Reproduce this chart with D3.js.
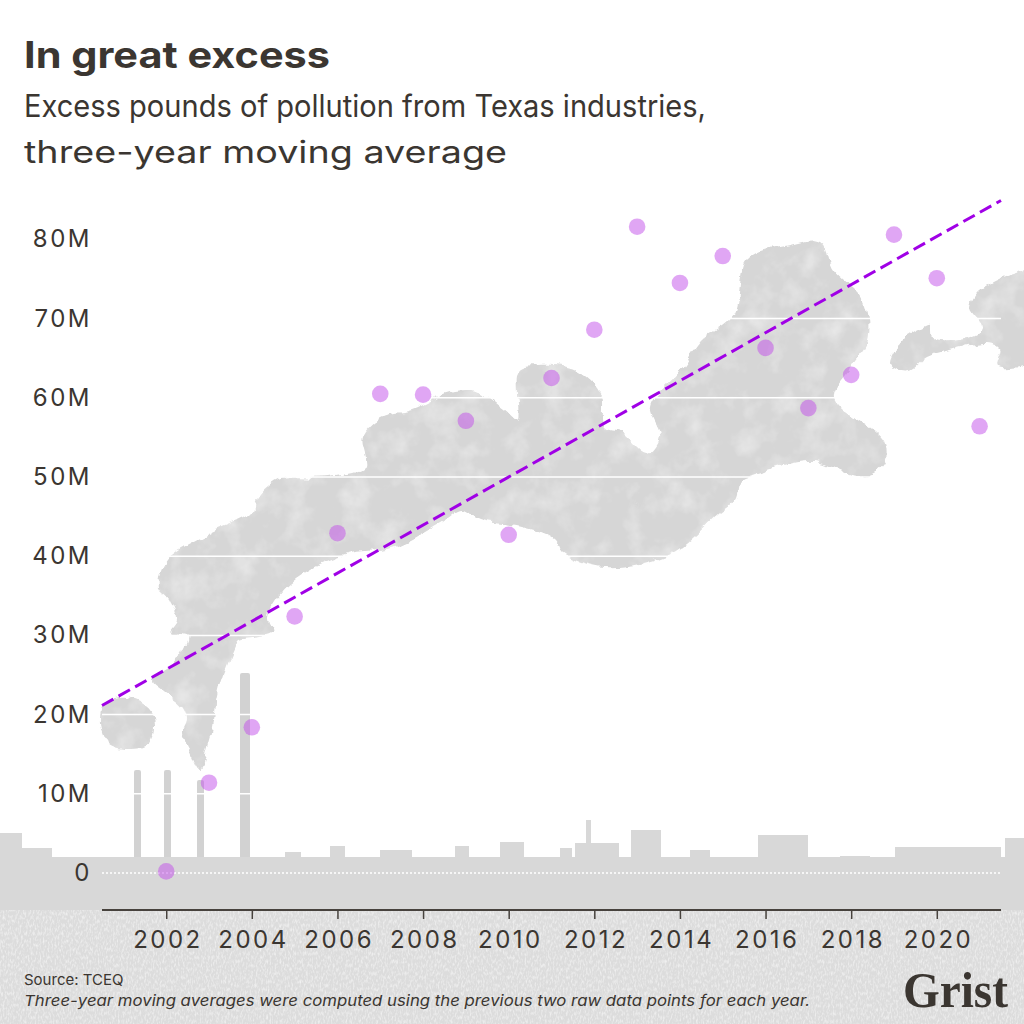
<!DOCTYPE html>
<html>
<head>
<meta charset="utf-8">
<script src="https://cdn.jsdelivr.net/npm/d3@7"></script>
<style>
  html, body { margin: 0; padding: 0; background: #fff; }
  svg { display: block; }
  text { font-family: Inter, "Noto Sans", sans-serif; fill: #3b3631; }
</style>
</head>
<body>
<svg id="chart" width="1024" height="1024"></svg>
<script>
// ---- data ----
var years = [2002, 2003, 2004, 2005, 2006, 2007, 2008, 2009, 2010, 2011,
             2012, 2013, 2014, 2015, 2016, 2017, 2018, 2019, 2020, 2021];
// excess pounds, millions (three-year moving average)
var pounds = [0.2, 11.4, 18.4, 32.4, 42.9, 60.5, 60.4, 57.1, 42.7, 62.5,
              68.6, 81.6, 74.5, 77.9, 66.3, 58.7, 62.9, 80.6, 75.1, 56.4];
var yTicks = [0, 10, 20, 30, 40, 50, 60, 70, 80];
var xTicks = [2002, 2004, 2006, 2008, 2010, 2012, 2014, 2016, 2018, 2020];

var svg = d3.select('#chart');
var W = 1024, H = 1024;

var x = d3.scaleLinear().domain([2000.5, 2021.5]).range([102, 1001]);
var y = d3.scaleLinear().domain([0, 80]).range([873, 239.4]);

// ---- filters for the photo-like background ----
var defs = svg.append('defs');
var f = defs.append('filter').attr('id', 'smoke')
    .attr('x', '-10%').attr('y', '-10%').attr('width', '120%').attr('height', '120%');
f.append('feTurbulence').attr('type', 'fractalNoise').attr('baseFrequency', 0.07)
    .attr('numOctaves', 3).attr('seed', 4).attr('result', 'n');
f.append('feDisplacementMap').attr('in', 'SourceGraphic').attr('in2', 'n')
    .attr('scale', 9).attr('xChannelSelector', 'R').attr('yChannelSelector', 'G').attr('result', 'd');
f.append('feTurbulence').attr('type', 'fractalNoise').attr('baseFrequency', 0.035)
    .attr('numOctaves', 4).attr('seed', 9).attr('result', 't');
f.append('feColorMatrix').attr('in', 't').attr('type', 'matrix')
    .attr('values', '0 0 0 0 1  0 0 0 0 1  0 0 0 0 1  0.9 0 0 0 -0.4').attr('result', 'w');
f.append('feComposite').attr('in', 'w').attr('in2', 'd').attr('operator', 'in').attr('result', 'wc');
var fm = f.append('feMerge');
fm.append('feMergeNode').attr('in', 'd');
fm.append('feMergeNode').attr('in', 'wc');

var fw = defs.append('filter').attr('id', 'water')
    .attr('x', 0).attr('y', 0).attr('width', '100%').attr('height', '100%');
fw.append('feTurbulence').attr('type', 'fractalNoise').attr('baseFrequency', '0.6 0.25')
    .attr('numOctaves', 2).attr('seed', 2).attr('result', 'n');
fw.append('feColorMatrix').attr('in', 'n').attr('type', 'matrix')
    .attr('values', '0 0 0 0 1  0 0 0 0 1  0 0 0 0 1  1.2 0 0 0 -0.5').attr('result', 'w');
fw.append('feComposite').attr('in', 'w').attr('in2', 'SourceGraphic').attr('operator', 'in').attr('result', 'wc');
var fwm = fw.append('feMerge');
fwm.append('feMergeNode').attr('in', 'SourceGraphic');
fwm.append('feMergeNode').attr('in', 'wc');

// ---- background: smoke, stacks, skyline, water ----
var bg = svg.append('g');
var cloud = d3.line().curve(d3.curveCatmullRomClosed.alpha(0.5));

var mainSmoke = [[200,770],[190,750],[183,733],[187,720],[183,707],[163,690],[153,680],[170,667],
  [183,650],[187,637],[170,633],[177,620],[170,600],[159,587],[167,560],[209,533],[252,513],
  [256,500],[277,480],[327,477],[365,467],[363,437],[382,417],[411,410],[449,393],[479,393],
  [504,410],[517,420],[519,370],[538,365],[576,370],[601,393],[605,427],[622,433],[647,453],
  [660,437],[651,407],[681,370],[702,340],[734,314],[747,260],[790,245],[821,242],[834,270],
  [864,300],[868,340],[851,367],[834,397],[884,441],[884,464],[861,477],[814,461],[754,474],
  [741,480],[735,500],[719,513],[672,553],[605,567],[563,553],[555,540],[521,527],[479,520],
  [462,510],[445,520],[395,547],[352,553],[310,570],[281,593],[268,617],[273,633],[239,640],
  [237,643],[223,677],[217,700],[213,727],[207,750],[203,767]];
var leftPuff = [[100,722],[104,705],[118,698],[135,700],[150,710],[155,728],[148,745],[128,750],[108,744]];
var rightSmoke = [[890,363],[903,340],[923,327],[930,325],[933,338],[967,337],[983,327],[970,307],
  [977,293],[997,280],[1017,273],[1030,268],[1030,362],[997,367],[1000,347],[983,343],[950,350],
  [927,357],[910,370],[893,367]];

var smokeG = bg.append('g').attr('filter', 'url(#smoke)');
[mainSmoke, leftPuff, rightSmoke].forEach(function(p){
    smokeG.append('path').attr('d', cloud(p)).attr('fill', '#d6d6d6');
});

// stacks
var stacks = [[134,770,7],[164,770,7],[197,780,7],[240,673,10]];
bg.selectAll('rect.stack').data(stacks).enter().append('rect')
    .attr('x', function(d){ return d[0]; }).attr('y', function(d){ return d[1]; })
    .attr('width', function(d){ return d[2]; }).attr('height', function(d){ return 862 - d[1]; })
    .attr('rx', 2).attr('fill', '#d2d2d2');

// skyline blocks [x, top, width]
var blocks = [[0,833,22],[22,848,30],[285,852,16],[330,846,15],[380,850,32],[455,846,14],
  [500,842,24],[560,848,12],[575,843,44],[586,820,5],[631,830,30],[690,850,20],[758,835,50],
  [840,856,30],[895,847,106],[1005,838,19]];
bg.selectAll('rect.bl').data(blocks).enter().append('rect')
    .attr('x', function(d){ return d[0]; }).attr('y', function(d){ return d[1]; })
    .attr('width', function(d){ return d[2]; }).attr('height', function(d){ return 870 - d[1]; })
    .attr('fill', '#d8d8d8');
bg.append('rect').attr('x', 0).attr('y', 857).attr('width', W).attr('height', 55).attr('fill', '#d8d8d8');
bg.append('rect').attr('x', 0).attr('y', 910).attr('width', W).attr('height', H - 910)
    .attr('fill', '#dcdcdc').attr('filter', 'url(#water)');

// ---- grid ----
var plot = svg.append('g');
plot.selectAll('line.grid').data(yTicks.filter(function(d){ return d > 0; })).enter().append('line')
    .attr('x1', 102).attr('x2', 1001)
    .attr('y1', function(d){ return y(d); }).attr('y2', function(d){ return y(d); })
    .attr('stroke', '#fff').attr('stroke-width', 1.5);
plot.append('line').attr('x1', 102).attr('x2', 1001).attr('y1', y(0)).attr('y2', y(0))
    .attr('stroke', '#fff').attr('stroke-width', 1.5).attr('stroke-dasharray', '2,2');

// y labels
plot.selectAll('text.yl').data(yTicks).enter().append('text')
    .attr('x', 92).attr('y', function(d){ return y(d) + 8; })
    .attr('text-anchor', 'end').attr('font-size', 24).style('letter-spacing', '2.5px')
    .text(function(d){ return d === 0 ? '0' : d + 'M'; });

// ---- x axis ----
var xAxis = d3.axisBottom(x).tickValues(xTicks).tickFormat(d3.format('d')).tickSize(9).tickPadding(12);
var xg = svg.append('g').attr('transform', 'translate(0,910)').call(xAxis);
xg.select('.domain').attr('stroke', '#47423d').attr('stroke-width', 2).attr('d', 'M102,0H1001');
xg.selectAll('.tick line').attr('stroke', '#47423d').attr('stroke-width', 1.5);
xg.selectAll('.tick text').attr('font-size', 24).attr('fill', '#3b3631')
    .attr('font-family', 'Inter, sans-serif').style('letter-spacing', '2.5px').attr('dx', 1.2);

// ---- trend line (least squares on the points) ----
var mx = d3.mean(years), my = d3.mean(pounds);
var sxy = d3.sum(years, function(v, i){ return (v - mx) * (pounds[i] - my); });
var sxx = d3.sum(years, function(v){ return (v - mx) * (v - mx); });
var slope = sxy / sxx, icpt = my - slope * mx;
var ends = x.domain();
svg.append('path')
    .attr('d', d3.line().x(function(d){ return x(d); }).y(function(d){ return y(icpt + slope * d); })(ends))
    .attr('fill', 'none').attr('stroke', '#a000e6').attr('stroke-width', 3)
    .attr('stroke-dasharray', '13,6');

// ---- dots ----
svg.selectAll('circle.dot').data(years).enter().append('circle')
    .attr('cx', function(d){ return x(d); })
    .attr('cy', function(d, i){ return y(pounds[i]); })
    .attr('r', 8.3).attr('fill', 'rgba(193,77,233,0.5)');

// ---- titles ----
svg.append('text').attr('x', 24).attr('y', 68).attr('font-size', 37).attr('font-weight', 700)
    .attr('textLength', 306).attr('lengthAdjust', 'spacingAndGlyphs').text('In great excess');
svg.append('text').attr('x', 24).attr('y', 117).attr('font-size', 31)
    .attr('textLength', 682).attr('lengthAdjust', 'spacingAndGlyphs')
    .text('Excess pounds of pollution from Texas industries,');
svg.append('text').attr('x', 24).attr('y', 163).attr('font-size', 31)
    .attr('textLength', 483).attr('lengthAdjust', 'spacingAndGlyphs')
    .text('three-year moving average');

// ---- footer ----
svg.append('text').attr('x', 24).attr('y', 985).attr('font-size', 15).text('Source: TCEQ');
svg.append('text').attr('x', 24).attr('y', 1006).attr('font-size', 15).attr('font-style', 'italic')
    .attr('textLength', 786).attr('lengthAdjust', 'spacingAndGlyphs')
    .text('Three-year moving averages were computed using the previous two raw data points for each year.');
svg.append('text').attr('x', 903).attr('y', 1007).attr('font-size', 50).attr('font-weight', 700)
    .style('font-family', '"Liberation Serif", "DejaVu Serif", serif')
    .attr('textLength', 105).attr('lengthAdjust', 'spacingAndGlyphs').text('Grist');
</script>
</body>
</html>
